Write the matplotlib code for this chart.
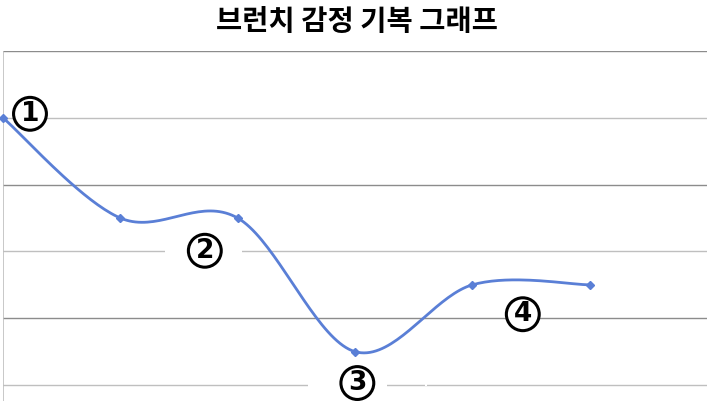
import numpy as np
import matplotlib.pyplot as plt
from matplotlib.patches import Rectangle

plt.rcParams['font.family'] = ['Noto Sans CJK KR', 'DejaVu Sans']

title = "브런치 감정 기복 그래프"
steps = [0, 1, 2, 3, 4, 5]
mood = [4, 2.5, 2.5, 0.5, 1.5, 1.5]
grid_levels = [0, 1, 2, 3, 4, 5]
labels = ["1", "2", "3", "4"]
label_x = [0.23, 1.72, 3.02, 4.43]
label_y = [4.06, 2.01, 0.03, 1.06]

line_color = "#5a7fd6"

fig = plt.figure(figsize=(7.13, 4.01), dpi=100)
ax = fig.add_axes([3 / 713, 0, 704 / 713, 1 - 51 / 401])
ax.set_xlim(0, 6)
ax.set_ylim(-16 / 67, 5)
ax.axis("off")

# gridlines (alternate shades like the original render)
for i, g in enumerate(grid_levels):
    c = "#bfbfbf" if i % 2 == 0 else "#8c8c8c"
    ax.axhline(g, color=c, lw=1, zorder=1)
ax.axvline(0, color="#bfbfbf", lw=1.2, zorder=1)

# white boxes behind labels 2 and 3
ax.add_patch(Rectangle((1.38, 1.75), 0.66, 0.5, fc="white", ec="none", zorder=2))
ax.add_patch(Rectangle((2.6, -0.3), 0.67, 0.5, fc="white", ec="none", zorder=2))
ax.add_patch(Rectangle((3.6, -0.02), 0.01, 0.04, fc="white", ec="none", zorder=2))

# smoothed line (Catmull-Rom in display space, like Excel smoothing)
fig.canvas.draw()
pts = ax.transData.transform(np.column_stack([steps, mood]))
curve = [pts[0]]
n = len(pts)
t = np.linspace(0, 1, 40)[1:]
for i in range(n - 1):
    p0 = pts[max(i - 1, 0)]
    p1 = pts[i]
    p2 = pts[i + 1]
    p3 = pts[min(i + 2, n - 1)]
    c1 = p1 + (p2 - p0) / 6
    c2 = p2 - (p3 - p1) / 6
    seg = ((1 - t) ** 3)[:, None] * p1 + (3 * (1 - t) ** 2 * t)[:, None] * c1 \
        + (3 * (1 - t) * t ** 2)[:, None] * c2 + (t ** 3)[:, None] * p2
    curve.extend(seg)
curve = ax.transData.inverted().transform(np.array(curve))
ax.plot(curve[:, 0], curve[:, 1], color=line_color, lw=2, zorder=3, clip_on=False)
ax.plot(steps, mood, ls="none", marker="D", ms=4, color=line_color, zorder=3, clip_on=False)

for lab, lx, ly in zip(labels, label_x, label_y):
    ax.text(lx, ly, lab, fontsize=19, fontweight="bold", ha="center", va="center",
            family="DejaVu Sans", zorder=4,
            bbox=dict(boxstyle="circle,pad=0.13", fc="white", ec="black", lw=2.2))

fig.text(0.5, 1 - 22 / 401, title, fontsize=20.5, fontweight="bold", ha="center", va="center")

fig.savefig("out.png", dpi=100)
